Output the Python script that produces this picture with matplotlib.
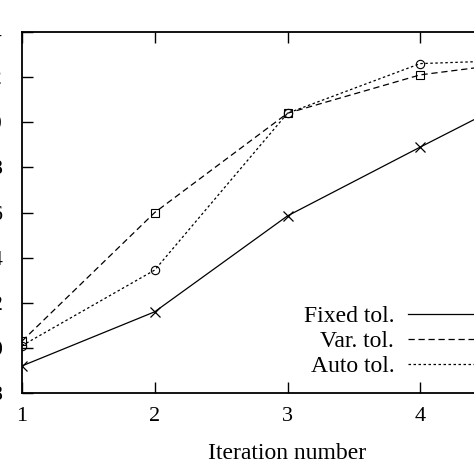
import matplotlib
matplotlib.use("Agg")
import matplotlib.pyplot as plt
from matplotlib.lines import Line2D

plt.rcParams["font.family"] = ["Liberation Serif", "DejaVu Serif"]

iterations = [1, 2, 3, 4, 5]
fixed_tol = [1.92, 2.16, 2.585, 2.89, 3.19]
var_tol = [2.03, 2.60, 3.04, 3.21, 3.285]
auto_tol = [2.01, 2.345, 3.04, 3.26, 3.28]
x_labels = ["1", "2", "3", "4", ""]
y_ticks = [1.8, 2.0, 2.2, 2.4, 2.6, 2.8, 3.0, 3.2, 3.4]
y_labels = ["1.8", "2.0", "2.2", "2.4", "2.6", "2.8", "3.0", "3.2", "3.4"]

fig = plt.figure(figsize=(4.74, 4.74), dpi=100)
# axes run past the right edge, as in the cropped reference
ax = fig.add_axes([22 / 474, 1 - 393 / 474, 531 / 474, 361 / 474])

ax.plot(iterations, fixed_tol, "-", color="black", lw=0.9, marker="x", ms=7, mew=0.9)
ax.plot(iterations, var_tol, color="black", lw=0.9, ls=(0, (5, 3)),
        marker="s", ms=6, mfc="none", mew=0.8)
ax.plot(iterations, auto_tol, color="black", lw=0.9, ls=(0, (2, 2)),
        marker="o", ms=6, mfc="none", mew=0.8)

ax.set_xlim(1, 5)
ax.set_ylim(1.8, 3.4)
ax.set_xticks(iterations)
ax.set_xticklabels(x_labels)
ax.set_yticks(y_ticks)
ax.set_yticklabels(y_labels)
ax.tick_params(direction="in", length=8, width=1, labelsize=16, top=True)
ax.tick_params(axis="y", pad=14)
ax.tick_params(axis="x", pad=10)
for s in ax.spines.values():
    s.set_linewidth(1.3)
ax.set_xlabel("Iteration number", fontsize=17, labelpad=12)

handles = [
    Line2D([], [], color="black", lw=0.9, ls="-"),
    Line2D([], [], color="black", lw=0.9, ls=(0, (5, 3))),
    Line2D([], [], color="black", lw=0.9, ls=(0, (2, 2))),
]
ax.legend(handles, ["Fixed tol.", "Var. tol.", "Auto tol."], loc="lower right",
          bbox_to_anchor=(0.99, -0.015), frameon=False, markerfirst=False,
          fontsize=17, handlelength=5, labelspacing=0.15, handletextpad=0.6)

fig.savefig("out.png", dpi=100)
